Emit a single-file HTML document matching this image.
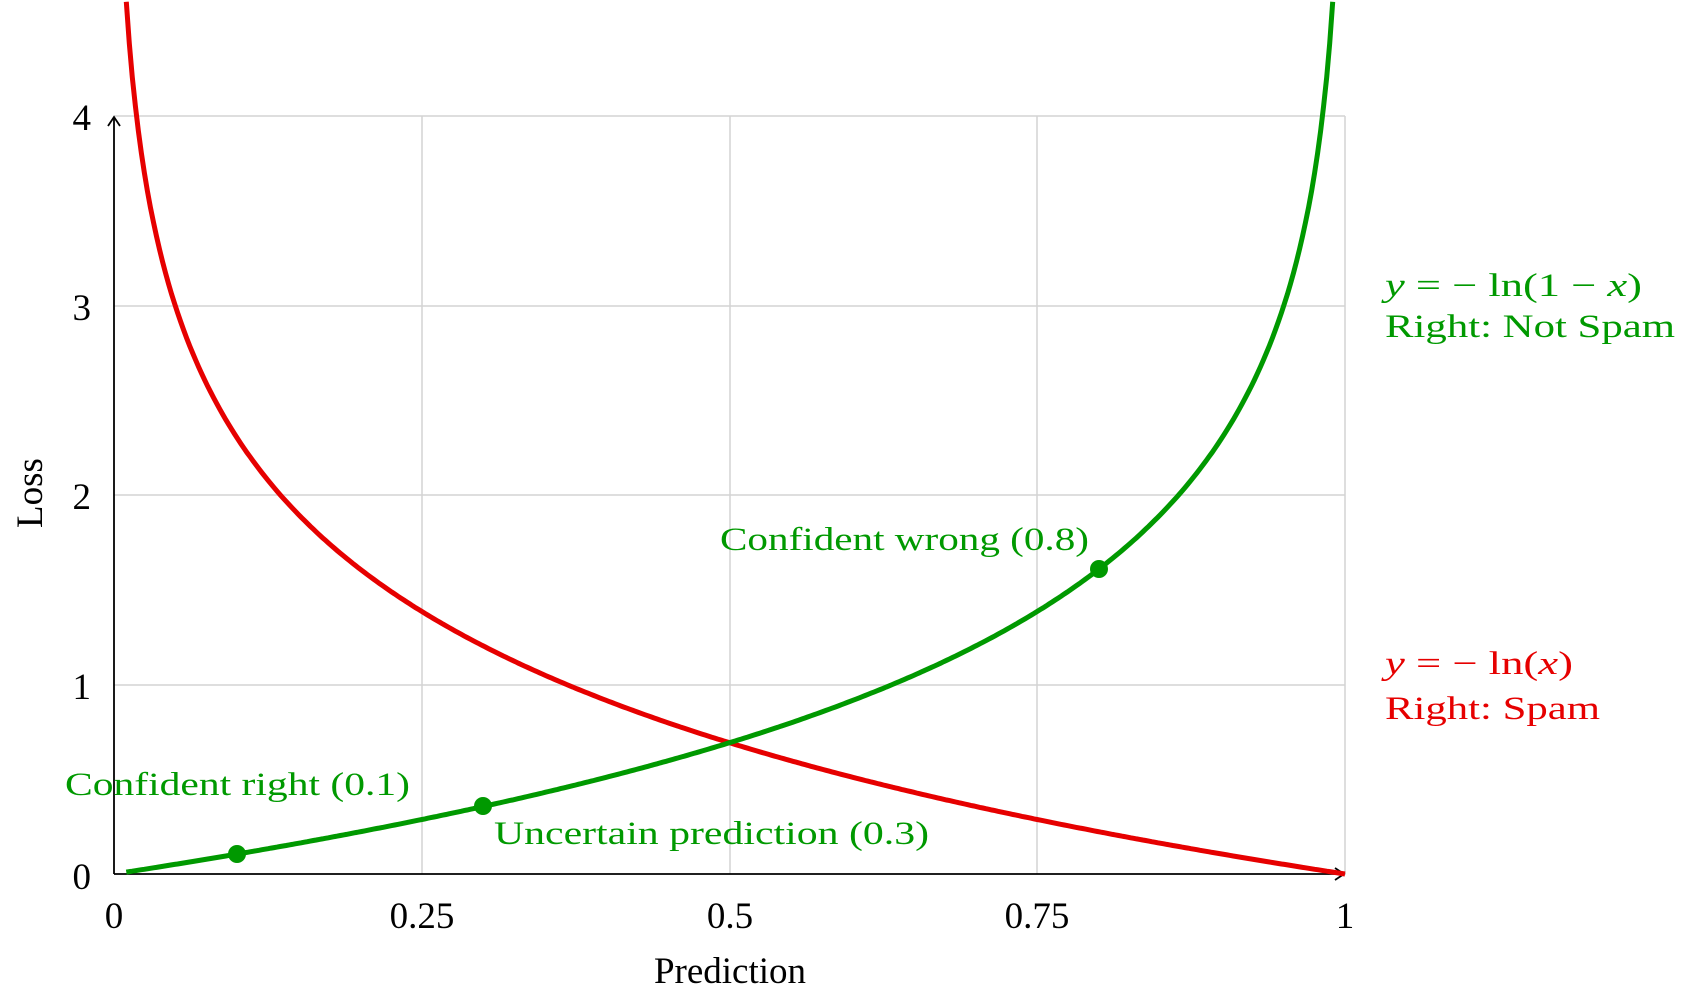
<!DOCTYPE html>
<html><head><meta charset="utf-8"><style>
html,body{margin:0;padding:0;background:#fff}
svg{display:block}
text{font-family:"Liberation Serif",serif;}
</style></head><body>
<svg id="s" width="1690" height="997" viewBox="0 0 1690 997" xmlns="http://www.w3.org/2000/svg">
<g stroke="#d4d4d4" stroke-width="1.5" fill="none">
<line x1="114" y1="116" x2="1345" y2="116"/>
<line x1="114" y1="306" x2="1345" y2="306"/>
<line x1="114" y1="495" x2="1345" y2="495"/>
<line x1="114" y1="685" x2="1345" y2="685"/>
<line x1="422" y1="116" x2="422" y2="874"/>
<line x1="730" y1="116" x2="730" y2="874"/>
<line x1="1037" y1="116" x2="1037" y2="874"/>
<line x1="1345" y1="116" x2="1345" y2="874"/>
</g>
<g stroke="#000" stroke-width="1.8" fill="none">
<line x1="114" y1="874" x2="1343" y2="874"/>
<line x1="114" y1="874" x2="114" y2="118"/>
<path d="M1335,868 L1344,874 L1335,880"/>
<path d="M108,126 L114,117 L120,126"/>
</g>
<path id="red" fill="none" stroke="#e60000" stroke-width="5"/>
<path id="green" fill="none" stroke="#009900" stroke-width="5"/>
<g fill="#009900">
<circle cx="237" cy="854" r="9"/>
<circle cx="483" cy="806" r="9"/>
<circle cx="1099" cy="569" r="9"/>
</g>
<g font-size="37" fill="#000">
<text x="91" y="889" text-anchor="end">0</text>
<text x="91" y="699" text-anchor="end">1</text>
<text x="91" y="509" text-anchor="end">2</text>
<text x="91" y="320" text-anchor="end">3</text>
<text x="91" y="130" text-anchor="end">4</text>
<text x="114" y="928" text-anchor="middle">0</text>
<text x="422" y="928" text-anchor="middle">0.25</text>
<text x="730" y="928" text-anchor="middle">0.5</text>
<text x="1037" y="928" text-anchor="middle">0.75</text>
<text x="1345" y="928" text-anchor="middle">1</text>
<text x="730" y="983" text-anchor="middle">Prediction</text>
<text transform="translate(42,493) rotate(-90)" text-anchor="middle">Loss</text>
</g>
<g font-size="33" fill="#009900">
<text x="720" y="550" textLength="369" lengthAdjust="spacingAndGlyphs">Confident wrong (0.8)</text>
<text x="65" y="795" textLength="345" lengthAdjust="spacingAndGlyphs">Confident right (0.1)</text>
<text x="494" y="844" textLength="435" lengthAdjust="spacingAndGlyphs">Uncertain prediction (0.3)</text>
<text x="1385" y="296" textLength="257" lengthAdjust="spacingAndGlyphs"><tspan font-style="italic">y</tspan> = − ln(1 − <tspan font-style="italic">x</tspan>)</text>
<text x="1385" y="337" textLength="290" lengthAdjust="spacingAndGlyphs">Right: Not Spam</text>
</g>
<g font-size="33" fill="#e60000">
<text x="1385" y="674" textLength="188" lengthAdjust="spacingAndGlyphs"><tspan font-style="italic">y</tspan> = − ln(<tspan font-style="italic">x</tspan>)</text>
<text x="1385" y="719" textLength="215" lengthAdjust="spacingAndGlyphs">Right: Spam</text>
</g>
</svg>
<script>
var X=function(x){return 114+x*1231}, Y=function(y){return 874-y*189.4};
var r="",g="";
for(var i=0;i<=400;i++){var x=0.01+0.98*i/400;
r+=(i?"L":"M")+X(x).toFixed(1)+","+Y(-Math.log(x)).toFixed(1);
g+=(i?"L":"M")+X(x).toFixed(1)+","+Y(-Math.log(1-x)).toFixed(1);}
r+="L"+X(1)+","+Y(0);
document.getElementById("red").setAttribute("d",r);
document.getElementById("green").setAttribute("d",g);
</script>
</body></html>
